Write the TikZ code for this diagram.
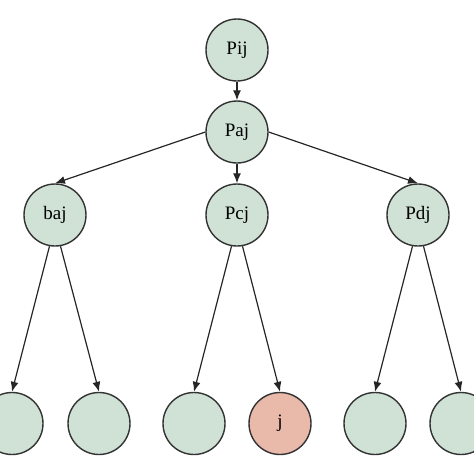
\documentclass[tikz,border=0pt]{standalone}
\usepackage{fontspec}
\setmainfont{Liberation Serif}
\usetikzlibrary{arrows.meta}
\definecolor{nodegreen}{HTML}{CFE2D5}
\definecolor{nodered}{HTML}{E9B9A9}
\definecolor{edgegray}{HTML}{333333}
\begin{document}
\begin{tikzpicture}[x=1pt,y=-1pt,
  tnode/.style={circle,draw=edgegray,line width=1.4pt,fill=nodegreen,minimum size=62pt,inner sep=0pt,font=\fontsize{19}{22}\selectfont},
  rnode/.style={tnode,fill=nodered},
  arr/.style={-{Latex[length=10pt,width=8pt]},line width=1.2pt,draw=black!85}]
\useasboundingbox (0,0) rectangle (474,474);
\node[tnode] (pij) at (237,50) {Pij};
\node[tnode] (paj) at (237,132) {Paj};
\node[tnode] (baj) at (55,215) {baj};
\node[tnode] (pcj) at (237,215) {Pcj};
\node[tnode] (pdj) at (418,215) {Pdj};
\node[tnode] (c1) at (12,423.5) {};
\node[tnode] (c2) at (99,423.5) {};
\node[tnode] (c3) at (194,423.5) {};
\node[rnode] (c4) at (280,423.5) {j};
\node[tnode] (c5) at (375,423.5) {};
\node[tnode] (c6) at (461,423.5) {};
\draw[arr] (pij) -- (paj);
\draw[arr] (paj.west) -- (baj.north);
\draw[arr] (paj) -- (pcj);
\draw[arr] (paj.east) -- (pdj.north);
\draw[arr] (baj.-100) -- (c1.north);
\draw[arr] (baj.-80) -- (c2.north);
\draw[arr] (pcj.-100) -- (c3.north);
\draw[arr] (pcj.-80) -- (c4.north);
\draw[arr] (pdj.-100) -- (c5.north);
\draw[arr] (pdj.-80) -- (c6.north);
\end{tikzpicture}
\end{document}
